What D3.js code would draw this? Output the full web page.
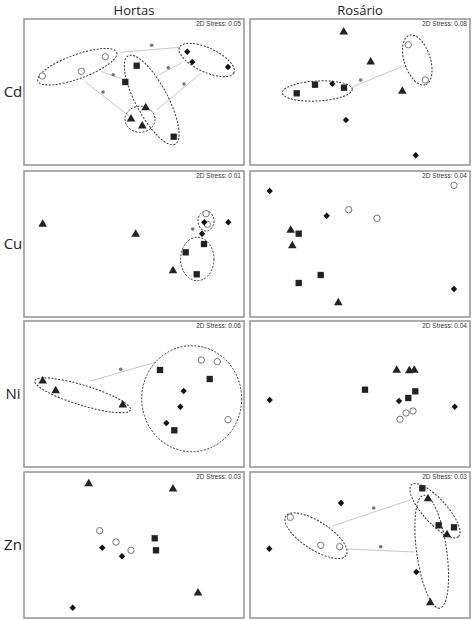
<!DOCTYPE html>
<html><head><meta charset="utf-8">
<script src="https://cdn.jsdelivr.net/npm/d3@7"></script>
<style>body{margin:0;background:#fff}</style>
</head><body><div id="chart"></div>
<script>
// column / row labels
const sites = ["Hortas", "Rosário"]
const metals = ["Cd", "Cu", "Ni", "Zn"]
const stress = [[0.05, 0.08], [0.01, 0.04], [0.06, 0.04], [0.03, 0.03]]

// ordination coordinates (panel units, 0-220 x 0-147, y down)
const circles = [
    [[[18.3,57],[57.3,52.3],[81.3,37.7]], [[158.3,25.7],[175.3,61]]],
    [[[182,42.7],[183.3,53.3]], [[204,14.3],[98.7,38.7],[127,47.3]]],
    [[[177.3,39],[193.3,40.7],[204,98.7]], [[163,90],[156,92],[150,98.3]]],
    [[[75.7,58.7],[92,70],[107,78.3]], [[40.3,45.3],[70.7,73.3],[89.7,74.7]]]
]
const squares = [
    [[[112.7,46.7],[101.3,63],[149.7,117.7]], [[46.7,74.3],[65,65.7],[94,68.7]]],
    [[[180,73],[161.7,81.3],[172.7,103.3]], [[48.7,62.7],[70.7,104],[48.7,112]]],
    [[[136,49],[185.7,58],[150.3,109.3]], [[115,68.7],[165.3,70.3],[158.3,77]]],
    [[[130.7,66.3],[132,78.3]], [[172.3,16.3],[188.7,53.3],[204,55.3]]]
]
const triangles = [
    [[[121.7,88.7],[107,100],[118.3,107]], [[93.7,13],[120.7,43],[152.3,72.3]]],
    [[[18.7,53.3],[111.7,63.3],[149,99.7]], [[40.7,59.3],[42.3,74.7],[88.3,131.7]]],
    [[[18.7,60],[31.7,69.7],[98.7,84]], [[146.7,49.3],[159.3,49.7],[164.3,49.3]]],
    [[[64.7,11.7],[149,17],[174,121]], [[178,26.7],[197,62.7],[180.3,130.7]]]
]
const diamonds = [
    [[[163.3,32.7],[168.3,43],[204,48]], [[82.3,64.7],[96,101],[165.7,136.3]]],
    [[[204.3,51.3],[178,62.7],[180.3,51.3]], [[19.7,20],[76.7,44.7],[204,118]]],
    [[[159.7,70],[156.3,85.7],[142.3,102]], [[19.7,79],[149,80],[204.7,85.7]]],
    [[[78.3,75.7],[98,84.3],[48.7,135.7]], [[91,31],[19.3,76.7],[166.3,100]]]
]
const stars = [
    [[[127.7,26.3],[89.3,55.7],[144.3,48.7],[79,73],[160,65]], [[110.7,61]]],
    [[[168.7,58]], []],
    [[[96.7,48.3]], []],
    [[], [[123.7,36],[130.7,74.7]]]
]
// cluster ellipses: cx, cy, rx, ry, rotation
const ellipses = [
    [[[53.3,47.7,42,12,-20],[127.7,81,50,16,62],[116,100.3,15,13,0],[182.7,41,30,12,25]],
     [[67.3,72,35,10,-3],[167.3,41,26,13,72]]],
    [[[182,50,8,10,0],[173.3,88,16.7,21.7,0]], []],
    [[[58.7,74.3,50,10,17],[167.7,77.7,50,53,0]], []],
    [[], [[66,63.7,36,14,33],[185,38.7,35,12,48],[181.7,79.7,57,15,82]]]
]
// links between cluster edges
const links = [
    [[[96,33.3,156,28.3],[77.7,52.7,101,61],[61,62.7,106,97.7],[132.7,57,157.7,43.7],[132.7,91,176,55]],
     [[101.7,68.3,154,46.7]]],
    [[], []],
    [[[66.7,60,132,41]], []],
    [[], [[83.3,53.7,160.7,27.7],[96.7,77,165,80]]]
]

const W = 474, H = 620
const colX = [24, 250], rowY = [19, 171, 321, 472]
const pw = 220, ph = 146

const svg = d3.select("#chart").append("svg").attr("width", W).attr("height", H)
    .style("font-family", "'Open Sans', sans-serif")

sites.forEach((s, c) => {
    svg.append("text").attr("x", colX[c] + pw / 2).attr("y", 15)
        .attr("text-anchor", "middle").attr("font-size", 13).attr("fill", "#222").text(s)
})
metals.forEach((m, r) => {
    svg.append("text").attr("x", 13).attr("y", rowY[r] + ph / 2 + 5)
        .attr("text-anchor", "middle").attr("font-size", 15).attr("fill", "#222").text(m)
})

const sym = (type, size) => d3.symbol().type(type).size(size)()

metals.forEach((m, r) => {
    sites.forEach((s, c) => {
        const x = d3.scaleLinear().domain([0, 220]).range([colX[c], colX[c] + pw])
        const y = d3.scaleLinear().domain([0, 146]).range([rowY[r], rowY[r] + ph])
        const g = svg.append("g")

        g.append("rect").attr("x", x(0)).attr("y", y(0)).attr("width", pw).attr("height", ph)
            .attr("fill", "none").attr("stroke", "#999").attr("stroke-width", 1.6)
        g.append("text").attr("x", x(217)).attr("y", y(7)).attr("text-anchor", "end")
            .attr("font-size", 6.5).attr("fill", "#333").attr("font-family", "Arial, 'Liberation Sans'")
            .text("2D Stress: " + stress[r][c].toFixed(2))

        g.selectAll(".lk").data(links[r][c]).enter().append("line")
            .attr("x1", d => x(d[0])).attr("y1", d => y(d[1]))
            .attr("x2", d => x(d[2])).attr("y2", d => y(d[3]))
            .attr("stroke", "#c8c8c8").attr("stroke-width", 1)

        g.selectAll(".el").data(ellipses[r][c]).enter().append("ellipse")
            .attr("transform", d => `translate(${x(d[0])},${y(d[1])}) rotate(${d[4]})`)
            .attr("rx", d => x(d[2]) - x(0)).attr("ry", d => y(d[3]) - y(0))
            .attr("fill", "none").attr("stroke", "#333").attr("stroke-width", 1)
            .attr("stroke-dasharray", "2,1.5")

        g.selectAll(".st").data(stars[r][c]).enter().append("circle")
            .attr("cx", d => x(d[0])).attr("cy", d => y(d[1])).attr("r", 1.8).attr("fill", "#777")

        g.selectAll(".ci").data(circles[r][c]).enter().append("circle")
            .attr("cx", d => x(d[0])).attr("cy", d => y(d[1])).attr("r", 3.2)
            .attr("fill", "#fff").attr("stroke", "#777").attr("stroke-width", 1)

        g.selectAll(".sq").data(squares[r][c]).enter().append("path")
            .attr("d", sym(d3.symbolSquare, 40))
            .attr("transform", d => `translate(${x(d[0])},${y(d[1])})`).attr("fill", "#222")

        g.selectAll(".tr").data(triangles[r][c]).enter().append("path")
            .attr("d", sym(d3.symbolTriangle, 32))
            .attr("transform", d => `translate(${x(d[0])},${y(d[1])})`).attr("fill", "#222")

        g.selectAll(".di").data(diamonds[r][c]).enter().append("path")
            .attr("d", sym(d3.symbolDiamond2, 26))
            .attr("transform", d => `translate(${x(d[0])},${y(d[1])})`).attr("fill", "#111")
    })
})
</script>
</body></html>
